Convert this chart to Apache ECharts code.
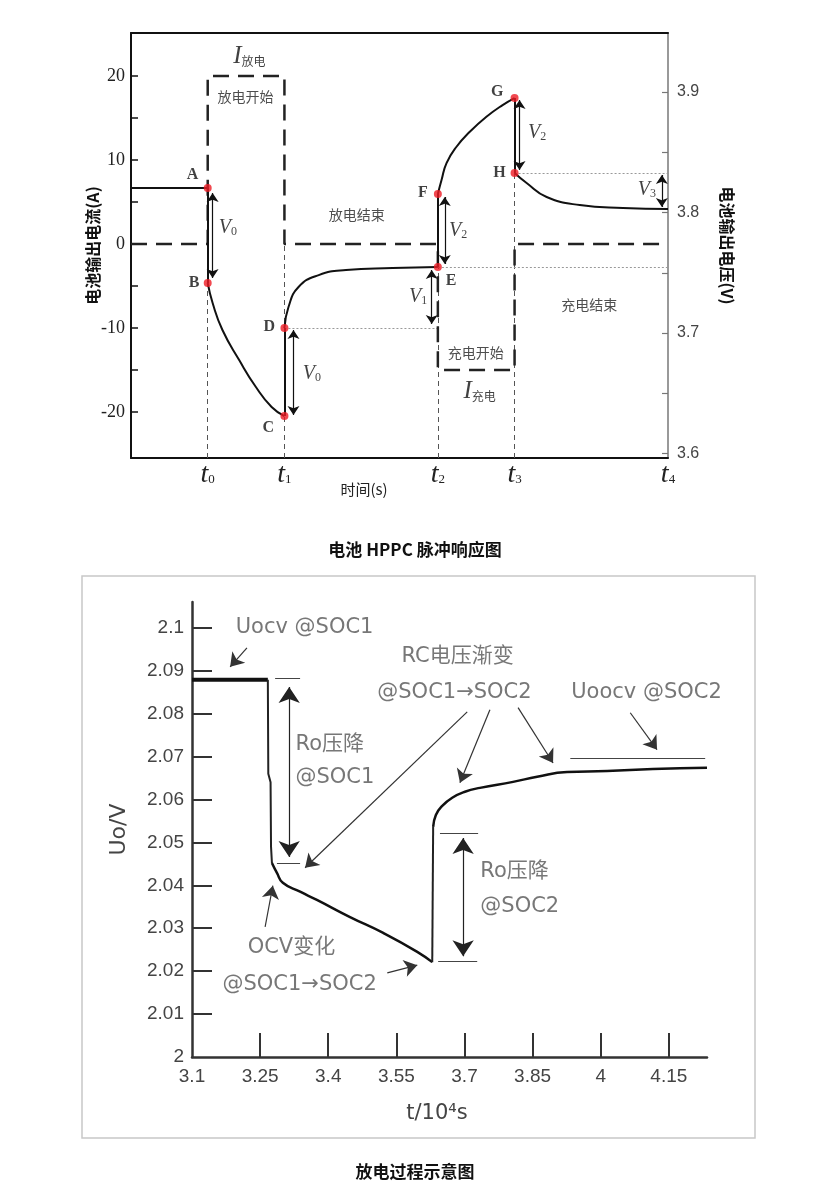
<!DOCTYPE html>
<html><head><meta charset="utf-8">
<script src="https://cdn.jsdelivr.net/npm/echarts@6/dist/echarts.min.js"></script>
<style>html,body{margin:0;padding:0;background:#fff}#c{width:830px;height:1186px}</style>
</head><body><div id="c"></div>
<script>
// ===== Top chart (HPPC pulse response) =====
const hppcTickPos = [1, 2, 4, 5, 7];          // t0..t4
const hppcTickSub = ['0', '1', '2', '3', '4'];
const currentT = [0, 1, 1, 2, 2, 4, 4, 5, 5, 7];
const currentA = [0, 0, 20, 20, 0, 0, -15, -15, 0, 0];
const leftTicks = [-20, -15, -10, -5, 0, 5, 10, 15, 20];
const leftLabels = [-20, -10, 0, 10, 20];
const rightTicks = [3.6, 3.65, 3.7, 3.75, 3.8, 3.85, 3.9];
const rightLabels = [3.6, 3.7, 3.8, 3.9];
const segFlat = [[0, 3.8203], [1, 3.8203]];
const segDischarge = [[1, 3.7415], [1.064, 3.7249], [1.192, 3.7025], [1.41, 3.6776], [1.628, 3.6552], [1.833, 3.6386], [2, 3.6311]];
const segRest1 = [[2, 3.7042], [2.053, 3.7216], [2.184, 3.7382], [2.447, 3.7481], [2.803, 3.7523], [3.408, 3.7539], [4, 3.7548]];
const segCharge = [[4, 3.8154], [4.048, 3.827], [4.113, 3.841], [4.243, 3.8546], [4.416, 3.867], [4.633, 3.8795], [4.844, 3.8892], [5, 3.895]];
const segRest2 = [[5, 3.8328], [5.157, 3.8245], [5.418, 3.8129], [5.85, 3.8062], [6.412, 3.8037], [7, 3.8029]];
const pointNames = ['A', 'B', 'C', 'D', 'E', 'F', 'G', 'H'];
const pointXY = [[1, 3.8203], [1, 3.7415], [2, 3.6311], [2, 3.7042], [4, 3.7548], [4, 3.8154], [5, 3.895], [5, 3.8328]];

// ===== Bottom chart (discharge process) =====
const xLabelsB = [3.1, 3.25, 3.4, 3.55, 3.7, 3.85, 4, 4.15];
const yLabelsB = [2, 2.01, 2.02, 2.03, 2.04, 2.05, 2.06, 2.07, 2.08, 2.09, 2.1];
const bFlat = [[3.1, 2.0879], [3.267, 2.0879]];
const bDrop = [[3.267, 2.0879], [3.268, 2.066], [3.273, 2.064], [3.274, 2.049], [3.276, 2.0452]];
const bDecline = [[3.276, 2.0452], [3.287, 2.0429], [3.3, 2.0406], [3.338, 2.0385], [3.375, 2.0366], [3.448, 2.0326], [3.521, 2.0289], [3.596, 2.0245], [3.629, 2.0221]];
const bRise = [[3.629, 2.0221], [3.631, 2.0536]];
const bRecovery = [[3.631, 2.0536], [3.637, 2.0564], [3.651, 2.0585], [3.673, 2.0604], [3.701, 2.0618], [3.734, 2.0627], [3.807, 2.0641], [3.86, 2.0653], [3.926, 2.0664], [4.014, 2.0666], [4.115, 2.0671], [4.234, 2.0674]];

const fmt = v => String(Number((+v).toFixed(2)));
const CJK = "'Noto Sans CJK SC'";
const SERIF = "'Liberation Serif','DejaVu Serif'";
const SANSB = "'DejaVu Sans','Noto Sans CJK SC'";

function textSeries(xi, yi, items, style) {
  return {
    type: 'scatter', xAxisIndex: xi, yAxisIndex: yi, symbolSize: 1, silent: true, z: 20,
    itemStyle: {color: 'rgba(0,0,0,0)'},
    data: items.map(it => ({
      value: [it[1], it[2]],
      label: Object.assign({show: true, position: [0, 0], align: 'center', verticalAlign: 'middle', formatter: it[0]}, style, it[3] || {})
    }))
  };
}
function linesSeries(xi, yi, segs, symbols, color, width, size, type, z) {
  return {
    type: 'lines', coordinateSystem: 'cartesian2d', xAxisIndex: xi, yAxisIndex: yi, silent: true,
    symbol: symbols, symbolSize: size, z: z || 5,
    lineStyle: {color: color, width: width, opacity: 1, curveness: 0, type: type || 'solid'},
    itemStyle: {color: color},
    data: segs.map(s => ({coords: s}))
  };
}
function curve(xi, yi, data, smooth, width, color) {
  return {type: 'line', xAxisIndex: xi, yAxisIndex: yi, data: data, smooth: smooth, symbol: 'none', silent: true, z: 8,
    lineStyle: {color: color, width: width}};
}

const Vrich = {
  v: {fontFamily: SERIF, fontStyle: 'italic', fontSize: 20, color: '#111'},
  s: {fontFamily: SERIF, fontSize: 12, color: '#111', padding: [9, 0, 0, 0]}
};
const Irich = {
  i: {fontFamily: SERIF, fontStyle: 'italic', fontSize: 25, color: '#111'},
  s: {fontFamily: CJK, fontSize: 12, color: '#111', padding: [9, 0, 0, 0]}
};

const series = [
  // current step (left axis)
  {type: 'line', xAxisIndex: 0, yAxisIndex: 0, data: currentT.map((t, i) => [t, currentA[i]]), symbol: 'none', silent: true, z: 6,
    lineStyle: {color: '#222', width: 2.5, type: [16, 9]}},
  // thin dashed verticals
  linesSeries(0, 0, [[[1, -25.48], [1, 0]], [[2, -25.48], [2, 0]], [[4, -25.48], [4, -2.74]], [[5, -25.48], [5, 8.45]]], ['none', 'none'], '#555', 1, 0, [5, 4], 4),
  // dotted horizontal references (right axis)
  linesSeries(0, 1, [[[2, 3.7042], [4, 3.7042]], [[4, 3.7548], [7, 3.7548]], [[5, 3.8328], [7, 3.8328]]], ['none', 'none'], '#999', 1, 0, [2, 2], 4),
  // voltage curve
  curve(0, 1, segFlat, false, 2, '#111'),
  curve(0, 1, segDischarge, true, 2, '#111'),
  curve(0, 1, segRest1, true, 2, '#111'),
  curve(0, 1, segCharge, true, 2, '#111'),
  curve(0, 1, segRest2, true, 2, '#111'),
  linesSeries(0, 1, [[pointXY[0], pointXY[1]], [pointXY[2], pointXY[3]], [pointXY[4], pointXY[5]], [pointXY[6], pointXY[7]]], ['none', 'none'], '#111', 2, 0, 'solid', 8),
  // double arrows
  linesSeries(0, 1, [
    [[1.064, 3.8162], [1.064, 3.7456]],
    [[2.118, 3.7025], [2.118, 3.632]],
    [[3.92, 3.7523], [3.92, 3.7075]],
    [[4.09, 3.8129], [4.09, 3.7573]],
    [[5.065, 3.8934], [5.065, 3.8353]],
    [[6.92, 3.8311], [6.92, 3.8046]]
  ], ['arrow', 'arrow'], '#111', 1.2, 9, 'solid', 9),
  // red points
  {type: 'scatter', xAxisIndex: 0, yAxisIndex: 1, data: pointXY, symbolSize: 8, silent: true, z: 15, itemStyle: {color: '#ee1c24'}},
  // point letters
  textSeries(0, 1, [['A', 0.81, 3.8311], ['B', 0.83, 3.7415], ['C', 1.795, 3.6212], ['D', 1.81, 3.705], ['E', 4.18, 3.7432], ['F', 3.81, 3.8162], ['G', 4.78, 3.9], ['H', 4.81, 3.8328]],
    {fontFamily: SERIF, fontSize: 16, color: '#111', fontWeight: 'bold'}),
  // V labels
  textSeries(0, 1, [['{v|V}{s|0}', 1.27, 3.7871], ['{v|V}{s|0}', 2.365, 3.666], ['{v|V}{s|1}', 3.75, 3.7299], ['{v|V}{s|2}', 4.27, 3.7846], ['{v|V}{s|2}', 5.3, 3.866], ['{v|V}{s|3}', 6.73, 3.8187]],
    {rich: Vrich}),
  // Chinese annotations
  textSeries(0, 1, [['放电开始', 1.5, 3.896], ['放电结束', 2.95, 3.798], ['充电开始', 4.5, 3.6834], ['充电结束', 5.98, 3.7232]],
    {fontFamily: CJK, fontSize: 14, color: '#222'}),
  textSeries(0, 1, [['{i|I}{s|放电}', 1.55, 3.929], ['{i|I}{s|充电}', 4.55, 3.651]], {rich: Irich}),

  // ===== bottom chart =====
  curve(2, 2, bFlat, false, 4, '#111'),
  curve(2, 2, bDrop, false, 2, '#222'),
  curve(2, 2, bDecline, true, 2.5, '#111'),
  curve(2, 2, bRise, false, 2, '#222'),
  curve(2, 2, bRecovery, true, 2.5, '#111'),
  // marker lines
  linesSeries(2, 2, [
    [[3.283, 2.0883], [3.338, 2.0883]],
    [[3.287, 2.0452], [3.338, 2.0452]],
    [[3.646, 2.0522], [3.73, 2.0522]],
    [[3.642, 2.0224], [3.728, 2.0224]],
    [[3.933, 2.0697], [4.23, 2.0697]]
  ], ['none', 'none'], '#444', 1.2, 0, 'solid', 6),
  // double arrows
  linesSeries(2, 2, [
    [[3.314, 2.0862], [3.314, 2.0466]],
    [[3.697, 2.051], [3.697, 2.0235]]
  ], ['arrow', 'arrow'], '#222', 1.2, 16, 'solid', 7),
  // single arrows
  linesSeries(2, 2, [
    [[3.221, 2.0953], [3.184, 2.0909]],
    [[3.706, 2.0804], [3.349, 2.0441]],
    [[3.756, 2.0809], [3.69, 2.0639]],
    [[3.818, 2.0814], [3.895, 2.0685]],
    [[4.065, 2.0802], [4.124, 2.0716]],
    [[3.261, 2.0303], [3.278, 2.0399]],
    [[3.53, 2.0196], [3.596, 2.0214]]
  ], ['none', 'arrow'], '#333', 1.2, 13, 'solid', 7),
  textSeries(2, 2, [
    ['Uocv @SOC1', 3.349, 2.1],
    ['RC电压渐变', 3.686, 2.0932],
    ['@SOC1→SOC2', 3.679, 2.0849],
    ['Uoocv @SOC2', 4.102, 2.0849],
    ['OCV变化', 3.32, 2.0254],
    ['@SOC1→SOC2', 3.338, 2.0168]
  ], {fontFamily: SANSB, fontSize: 21, color: '#555'}),
  textSeries(2, 2, [
    ['Ro压降', 3.329, 2.0727],
    ['@SOC1', 3.329, 2.065],
    ['Ro压降', 3.736, 2.0431],
    ['@SOC2', 3.736, 2.035]
  ], {fontFamily: SANSB, fontSize: 21, color: '#555', align: 'left'})
];

const option = {
  animation: false,
  backgroundColor: '#fff',
  title: [
    {text: '电池 HPPC 脉冲响应图', left: 'center', top: 536, textStyle: {fontFamily: CJK, fontSize: 17, fontWeight: 'bold', color: '#111'}},
    {text: '放电过程示意图', left: 'center', top: 1158, textStyle: {fontFamily: CJK, fontSize: 17, fontWeight: 'bold', color: '#111'}}
  ],
  grid: [
    {left: 131, top: 33, width: 537, height: 425},
    {left: 192, top: 602, width: 515, height: 455},
    {left: 82, top: 576, width: 673, height: 562, show: true, borderColor: '#c8c8c8', borderWidth: 1.5, backgroundColor: 'rgba(0,0,0,0)'}
  ],
  xAxis: [
    {gridIndex: 0, type: 'value', min: 0, max: 7, splitLine: {show: false},
      axisLine: {onZero: false, lineStyle: {color: '#111', width: 2}}, axisTick: {show: false},
      axisLabel: {customValues: hppcTickPos, margin: 3,
        formatter: v => '{t|t}{s|' + hppcTickSub[hppcTickPos.indexOf(Math.round(v))] + '}',
        rich: {t: {fontFamily: SERIF, fontStyle: 'italic', fontSize: 28, color: '#222'}, s: {fontFamily: SERIF, fontSize: 13, color: '#222', padding: [10, 0, 0, 0]}}},
      name: '时间(s)', nameLocation: 'middle', nameGap: 24, nameMoveOverlap: false,
      nameTextStyle: {fontFamily: CJK, fontSize: 15, color: '#222', padding: [0, 71, 0, 0]}},
    {gridIndex: 0, type: 'value', position: 'top', min: 0, max: 7, splitLine: {show: false},
      axisLine: {onZero: false, lineStyle: {color: '#111', width: 2}}, axisTick: {show: false}, axisLabel: {show: false}},
    {gridIndex: 1, type: 'value', min: 3.1, max: 4.234, splitLine: {show: false},
      axisLine: {onZero: false, lineStyle: {color: '#333', width: 2.5}},
      axisTick: {inside: true, length: 24, customValues: xLabelsB.slice(1), lineStyle: {color: '#333', width: 2}},
      axisLabel: {customValues: xLabelsB, formatter: fmt, margin: 10, fontFamily: "'Liberation Sans'", fontSize: 19, color: '#444'},
      name: 't/10⁴s', nameLocation: 'middle', nameGap: 46, nameMoveOverlap: false,
      nameTextStyle: {fontFamily: "'DejaVu Sans'", fontSize: 21, color: '#444', padding: [0, 25, 0, 0]}},
    {gridIndex: 2, type: 'value', show: false, min: 0, max: 1}
  ],
  yAxis: [
    {gridIndex: 0, type: 'value', position: 'left', min: -25.48, max: 25.12, splitLine: {show: false},
      axisLine: {onZero: false, lineStyle: {color: '#111', width: 2}},
      axisTick: {inside: true, length: 7, customValues: leftTicks, lineStyle: {color: '#111', width: 1.5}},
      axisLabel: {customValues: leftLabels, margin: 6, fontFamily: SERIF, fontSize: 18, color: '#222'},
      name: '电池输出电流(A)', nameLocation: 'middle', nameGap: 30, nameRotate: 90, nameMoveOverlap: false,
      nameTextStyle: {fontFamily: CJK, fontSize: 16, color: '#111', fontWeight: 'bold'}},
    {gridIndex: 0, type: 'value', position: 'right', min: 3.5963, max: 3.949, splitLine: {show: false},
      axisLine: {onZero: false, lineStyle: {color: '#777', width: 1.5}},
      axisTick: {inside: true, length: 6, customValues: rightTicks, lineStyle: {color: '#777', width: 1.2}},
      axisLabel: {customValues: rightLabels, formatter: fmt, margin: 9, fontFamily: "'Liberation Sans'", fontSize: 16, color: '#444'},
      name: '电池输出电压(V)', nameLocation: 'middle', nameGap: 51, nameRotate: -90, nameMoveOverlap: false,
      nameTextStyle: {fontFamily: CJK, fontSize: 16, color: '#111', fontWeight: 'bold'}},
    {gridIndex: 1, type: 'value', min: 2, max: 2.106, splitLine: {show: false},
      axisLine: {onZero: false, lineStyle: {color: '#333', width: 2.5}},
      axisTick: {inside: true, length: 20, customValues: yLabelsB.slice(1), lineStyle: {color: '#333', width: 2}},
      axisLabel: {customValues: yLabelsB, formatter: fmt, margin: 8, fontFamily: "'Liberation Sans'", fontSize: 19, color: '#444'},
      name: 'Uo/V', nameLocation: 'middle', nameGap: 62, nameRotate: 90, nameMoveOverlap: false,
      nameTextStyle: {fontFamily: "'DejaVu Sans'", fontSize: 22, color: '#444'}},
    {gridIndex: 2, type: 'value', show: false, min: 0, max: 1}
  ],
  series: series
};
const chart = echarts.init(document.getElementById('c'));
chart.setOption(option);
</script></body></html>
